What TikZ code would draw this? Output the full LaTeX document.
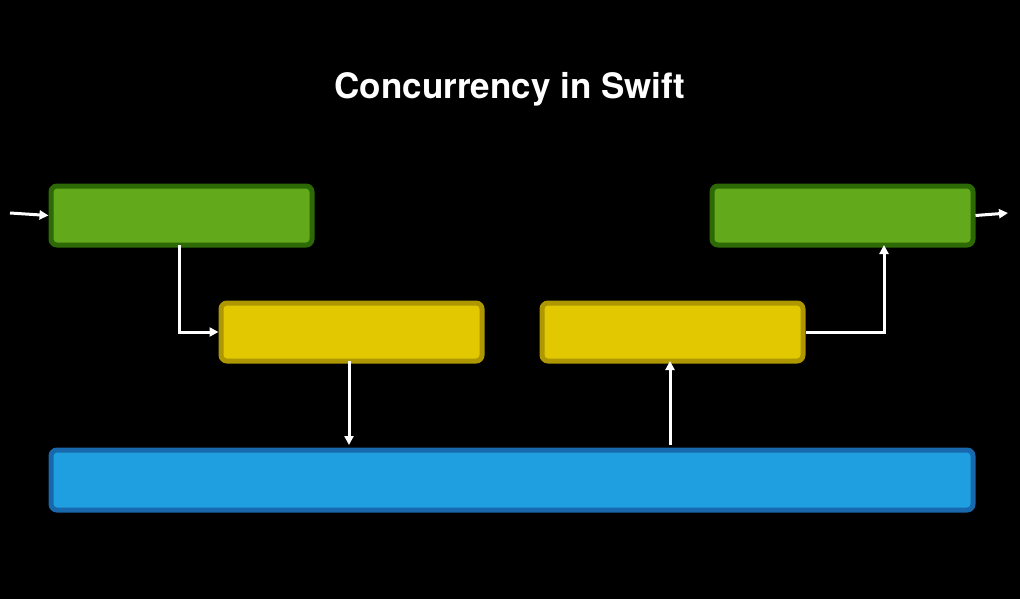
\documentclass[tikz,border=0pt]{standalone}
\usepackage{fontspec}
\setmainfont{TeX Gyre Heros}
\usetikzlibrary{arrows.meta}
\definecolor{gfill}{HTML}{62A91B}
\definecolor{gline}{HTML}{2D6A05}
\definecolor{yfill}{HTML}{E2C800}
\definecolor{yline}{HTML}{AE9700}
\definecolor{bfill}{HTML}{1F9FE0}
\definecolor{bline}{HTML}{1868AE}
\begin{document}
\begin{tikzpicture}[x=1pt,y=-1pt,
  box/.style={draw,line width=5pt,rounded corners=6pt,inner sep=0pt,anchor=north west},
  gbox/.style={box,draw=gline,fill=gfill},
  ybox/.style={box,draw=yline,fill=yfill},
  bbox/.style={box,draw=bline,fill=bfill},
  arr/.style={draw=white,line width=3pt,-{Triangle[length=9pt,width=9pt]}}]
\fill[black] (0,0) rectangle (1020,599);
\useasboundingbox (0,0) rectangle (1020,599);
\node[text=white,font=\fontsize{35}{40}\selectfont\bfseries] (title) at (510,89) {Concurrency in Swift};
\node[gbox,minimum width=261pt,minimum height=59pt] (g1) at (48.5,183.5) {};
\node[gbox,minimum width=261pt,minimum height=59pt] (g2) at (709.5,183.5) {};
\node[ybox,minimum width=261pt,minimum height=58pt] (y1) at (218.5,300.5) {};
\node[ybox,minimum width=261pt,minimum height=58pt] (y2) at (539.5,300.5) {};
\node[bbox,minimum width=922pt,minimum height=60pt] (b) at (48.5,447.5) {};
\coordinate (in) at (10,213);
\coordinate (out) at (1008,213);
\draw[arr] (in) -- (g1.west);
\draw[arr] (179,245) |- (y1.west);
\draw[arr] (349,361) -- (349,445);
\draw[arr] (670,445) -- (670,361);
\draw[arr] (y2.east) -| (884,245);
\draw[arr] (g2.east) -- (out);
\end{tikzpicture}
\end{document}
